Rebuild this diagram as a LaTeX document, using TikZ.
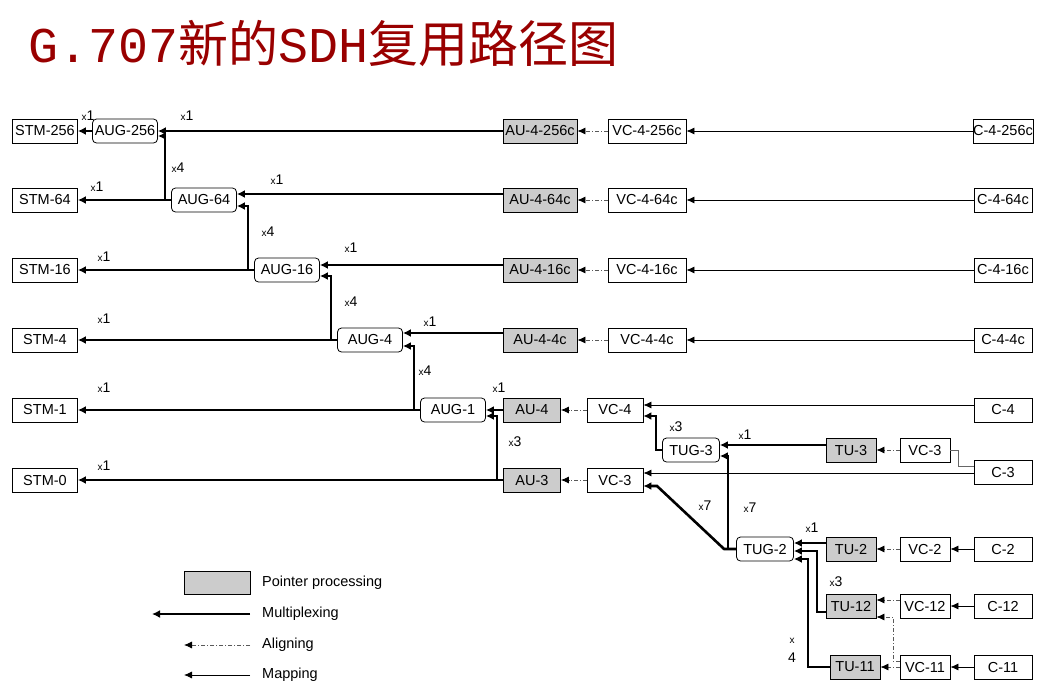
\documentclass[tikz,border=0pt]{standalone}
\usepackage{fontspec}
\setmainfont{Liberation Sans}
\newfontfamily\cjk{Noto Sans CJK SC}
\newfontfamily\tmono{Liberation Mono}
\usetikzlibrary{arrows.meta}
\newcommand\mx[1]{{\fontsize{10}{10}\selectfont x}#1}
\begin{document}
\begin{tikzpicture}[x=1pt,y=-1pt,
  every node/.style={font=\fontsize{14.5}{16}\selectfont,inner sep=0pt},
  bx/.style={draw,line width=0.8pt,minimum height=24pt},
  sq/.style={bx,minimum width=65pt},
  rd/.style={bx,rounded corners=4pt,minimum width=#1},
  rd/.default=65pt,
  gr/.style={bx,fill=gray!40,minimum width=#1},
  gr/.default=74pt,
  cb/.style={bx,minimum width=58pt},
  mux/.style={line width=2.6pt,-{Latex[length=8pt,width=8pt]}},
  mapp/.style={line width=0.8pt,-{Latex[length=8pt,width=7pt]}},
  aln/.style={line width=0.8pt,gray!70!black,dash pattern=on 4pt off 2pt on 1pt off 2pt,-{Latex[length=8pt,width=7pt,color=black]}},
  lb/.style={font=\fontsize{14}{14}\selectfont}]
\useasboundingbox (0,0) rectangle (1043,683);
\node[anchor=base west,text=red!60!black,font=\fontsize{50}{50}\selectfont] (title) at (28,62) {{\tmono G.707}{\cjk 新的}{\tmono SDH}{\cjk 复用路径图}};
% STM
\node[sq] (stm256) at (45,131) {STM-256};
\node[sq] (stm64) at (45,200) {STM-64};
\node[sq] (stm16) at (45,270) {STM-16};
\node[sq] (stm4) at (45,340) {STM-4};
\node[sq] (stm1) at (45,410) {STM-1};
\node[sq] (stm0) at (45,480) {STM-0};
% AUG
\node[rd] (aug256) at (125,131) {AUG-256};
\node[rd] (aug64) at (204,200) {AUG-64};
\node[rd] (aug16) at (287,270) {AUG-16};
\node[rd] (aug4) at (370,340) {AUG-4};
\node[rd] (aug1) at (453,410) {AUG-1};
% AU
\node[gr] (au256) at (540,131) {AU-4-256c};
\node[gr] (au64) at (540,200) {AU-4-64c};
\node[gr] (au16) at (540,270) {AU-4-16c};
\node[gr] (au4c) at (540,340) {AU-4-4c};
\node[gr=57pt] (au4) at (532,410) {AU-4};
\node[gr=57pt] (au3) at (532,480) {AU-3};
% VC
\node[bx,minimum width=78pt] (vc256) at (647,131) {VC-4-256c};
\node[bx,minimum width=78pt] (vc64) at (647,200) {VC-4-64c};
\node[bx,minimum width=78pt] (vc16) at (647,270) {VC-4-16c};
\node[bx,minimum width=78pt] (vc4c) at (647,340) {VC-4-4c};
\node[bx,minimum width=56pt] (vc4) at (615,410) {VC-4};
\node[bx,minimum width=56pt] (vc3) at (615,480) {VC-3};
% C
\node[bx,minimum width=60pt] (c256) at (1003,131) {C-4-256c};
\node[bx,minimum width=58pt] (c64) at (1003,200) {C-4-64c};
\node[bx,minimum width=58pt] (c16) at (1003,270) {C-4-16c};
\node[bx,minimum width=58pt] (c4c) at (1003,340) {C-4-4c};
\node[cb] (c4) at (1003,410) {C-4};
\node[cb] (c3) at (1003,472) {C-3};
\node[cb] (c2) at (1003,549) {C-2};
\node[cb] (c12) at (1003,606) {C-12};
\node[cb] (c11) at (1003,667) {C-11};
% TUG/TU
\node[rd=57pt] (tug3) at (691,450) {TUG-3};
\node[rd=57pt] (tug2) at (765,549) {TUG-2};
\node[gr=50pt] (tu3) at (851,450) {TU-3};
\node[gr=50pt] (tu2) at (851,549) {TU-2};
\node[gr=50pt] (tu12) at (851,606) {TU-12};
\node[gr=50pt] (tu11) at (855,667) {TU-11};
\node[bx,minimum width=50pt] (vc3s) at (925,450) {VC-3};
\node[bx,minimum width=50pt] (vc2) at (925,549) {VC-2};
\node[bx,minimum width=50pt] (vc12) at (925,606) {VC-12};
\node[bx,minimum width=50pt] (vc11) at (925,667) {VC-11};
% mapping
\foreach \a/\b in {c256/vc256,c64/vc64,c16/vc16,c4c/vc4c,c2/vc2,c12/vc12,c11/vc11}
  \draw[mapp] (\a) -- (\b);
\draw[mapp] (c4.west |- 0,405) -- (vc4.east |- 0,405);
\draw[mapp] (c3.west |- 0,473) -- (vc3.east |- 0,473);
\draw[gray!80!black,line width=0.8pt] (vc3s.east) -- ++(8,0) |- (c3.west |- 0,466);
% aligning
\foreach \a/\b in {vc256/au256,vc64/au64,vc16/au16,vc4c/au4c,vc4/au4,vc3/au3,vc3s/tu3,vc2/tu2,vc11/tu11}
  \draw[aln] (\a) -- (\b);
\draw[aln] (vc12.west |- 0,600) -- (tu12.east |- 0,600);
\draw[aln] (vc11.west |- 0,661) -- (893,661) -- (893,617) -- (tu12.east |- 0,617);
% multiplexing
\draw[mux] (au256.west) -- (aug256.east |- au256.west);
\draw[mux] (au64.west |- 0,194) -- (aug64.east |- 0,194);
\draw[mux] (au16.west |- 0,265) -- (aug16.east |- 0,265);
\draw[mux] (au4c.west |- 0,333) -- (aug4.east |- 0,333);
\draw[mux] (au4) -- (aug1);
\draw[mux] (aug256) -- (stm256);
\draw[mux] (aug64) -- (stm64);
\draw[mux] (aug16) -- (stm16);
\draw[mux] (aug4) -- (stm4);
\draw[mux] (aug1) -- (stm1);
\draw[mux] (au3) -- (stm0);
\draw[mux] (aug64.west) -- ++(-6,0) |- (aug256.east |- 0,136);
\draw[mux] (aug16.west) -- ++(-6,0) |- (aug64.east |- 0,206);
\draw[mux] (aug4.west) -- ++(-6,0) |- (aug16.east |- 0,276);
\draw[mux] (aug1.west) -- ++(-6,0) |- (aug4.east |- 0,346);
\draw[mux] (au3.west) -- ++(-6,0) |- (aug1.east |- 0,416);
\draw[mux] (tug3.west) -- ++(-6,0) |- (vc4.east |- 0,416);
\draw[mux] (tu3.west |- 0,445) -- (tug3.east |- 0,445);
\draw[mux] (tug2.west) -- ++(-8,0) |- (tug3.east |- 0,456);
\draw[mux] (tug2.west) -- ++(-12,0) -- (657,486) -- (vc3.east |- 0,486);
\draw[mux] (tu2.west |- 0,543) -- (tug2.east |- 0,543);
\draw[mux] (tu12.west |- 0,612) -- (817,612) -- (817,551) -- (tug2.east |- 0,551);
\draw[mux] (tu11.west) -- (808,667) -- (808,559) -- (tug2.east |- 0,559);
% labels
\foreach \p/\t in {{(88,116)}/1,{(187,116)}/1,{(178,168)}/4,{(97,187)}/1,{(277,180)}/1,{(268,232)}/4,{(104,257)}/1,{(351,248)}/1,{(351,302)}/4,{(104,319)}/1,{(430,322)}/1,{(425,371)}/4,{(104,388)}/1,{(499,388)}/1,{(515,442)}/3,{(104,466)}/1,{(676,427)}/3,{(745,435)}/1,{(705,506)}/7,{(750,508)}/7,{(812,528)}/1,{(836,582)}/3}
  \node[lb] at \p {\mx{\t}};
\node[lb] (l4a) at (792,641) {\fontsize{10}{10}\selectfont x};
\node[lb] (l4b) at (792,658) {4};
% legend
\node[bx,fill=gray!40,minimum width=66pt,minimum height=23pt] (lg1) at (217,583) {};
\node[anchor=west] (lt1) at (262,583) {Pointer processing};
\coordinate (m1) at (250,614); \coordinate (m2) at (152,614);
\draw[mux] (m1) -- (m2);
\node[anchor=west] (lt2) at (262,614) {Multiplexing};
\coordinate (a1) at (250,645); \coordinate (a2) at (184,645);
\draw[aln] (a1) -- (a2);
\node[anchor=west] (lt3) at (262,645) {Aligning};
\coordinate (p1) at (250,675); \coordinate (p2) at (184,675);
\draw[mapp] (p1) -- (p2);
\node[anchor=west] (lt4) at (262,675) {Mapping};
\end{tikzpicture}
\end{document}
